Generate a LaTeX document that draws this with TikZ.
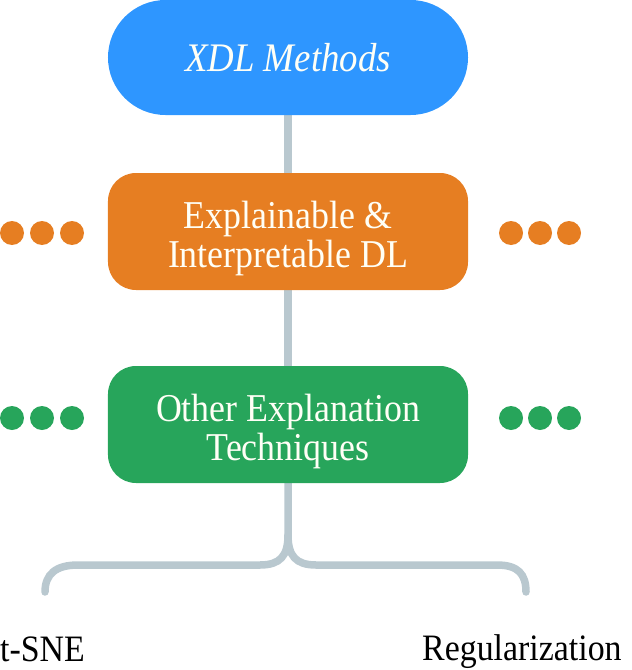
\documentclass[tikz,border=0pt]{standalone}
\usepackage{fontspec}
\usepackage{graphicx}
\setmainfont{Liberation Serif}
\usetikzlibrary{backgrounds}
\definecolor{xblue}{HTML}{2E96FF}
\definecolor{xorange}{HTML}{E67E22}
\definecolor{xgreen}{HTML}{27A55B}
\definecolor{xgray}{HTML}{B9C8CF}
\definecolor{xwhite}{HTML}{FFFFF6}
\newcommand\vstretch[1]{\scalebox{1}[1.1]{#1}}
\newcommand\twolines[2]{\raisebox{-15bp}[0pt][0pt]{\vstretch{\begin{tabular}{@{}c@{}}#1\\#2\end{tabular}}}}
\tikzset{
  box/.style={rectangle, minimum width=360bp, minimum height=117bp, inner sep=0pt,
    text=xwhite, align=center, font=\fontsize{36}{35}\selectfont},
  dotnode/.style={circle, fill=#1, minimum size=24bp, inner sep=0pt},
  conn/.style={draw=xgray, line width=7.5bp},
  lbl/.style={inner sep=0pt, font=\fontsize{34}{36}\selectfont, text=black}
}
\begin{document}
\begin{tikzpicture}[x=1bp,y=-1bp]
\useasboundingbox (0,0) rectangle (632,670);
\node[box, fill=xblue, rounded corners=57.5bp, minimum height=115bp,
      font=\fontsize{37}{38}\selectfont\itshape] (xdl) at (288,57.5) {\vstretch{XDL Methods}};
\node[box, fill=xorange, rounded corners=28bp] (ex) at (288,231.5) {\twolines{Explainable \&}{Interpretable DL}};
\node[box, fill=xgreen, rounded corners=28bp] (ot) at (288,424.5) {\twolines{Other Explanation}{Techniques}};
% dots
\node[dotnode=xorange] (eL1) at (12,233) {};
\node[dotnode=xorange] (eL2) at (42,233) {};
\node[dotnode=xorange] (eL3) at (72,233) {};
\node[dotnode=xorange] (eR1) at (511,233) {};
\node[dotnode=xorange] (eR2) at (540,233) {};
\node[dotnode=xorange] (eR3) at (569,233) {};
\node[dotnode=xgreen] (gL1) at (12,418) {};
\node[dotnode=xgreen] (gL2) at (42,418) {};
\node[dotnode=xgreen] (gL3) at (72,418) {};
\node[dotnode=xgreen] (gR1) at (511,418) {};
\node[dotnode=xgreen] (gR2) at (540,418) {};
\node[dotnode=xgreen] (gR3) at (569,418) {};
% labels
\node[lbl, anchor=base west] (tsne) at (0,661) {\vstretch{t-SNE}};
\node[lbl, anchor=base west] (reg) at (422,660) {\vstretch{Regularization}};
\coordinate (j) at (288,535);
\coordinate (ltip) at (45,592);
\coordinate (rtip) at (526,592);
\begin{scope}[on background layer]
\draw[conn] (xdl.center) -- (ex.center);
\draw[conn] (ex.center) -- (ot.center);
\draw[conn, line cap=round] (ot.center) -- (j)
  .. controls (288,556) and (280,565) .. (260,565) -- (78,565)
  .. controls (56,565) and (45,574) .. (ltip);
\draw[conn, line cap=round] (j)
  .. controls (288,556) and (296,565) .. (316,565) -- (497,565)
  .. controls (518,565) and (526,574) .. (rtip);
\end{scope}
\end{tikzpicture}
\end{document}
